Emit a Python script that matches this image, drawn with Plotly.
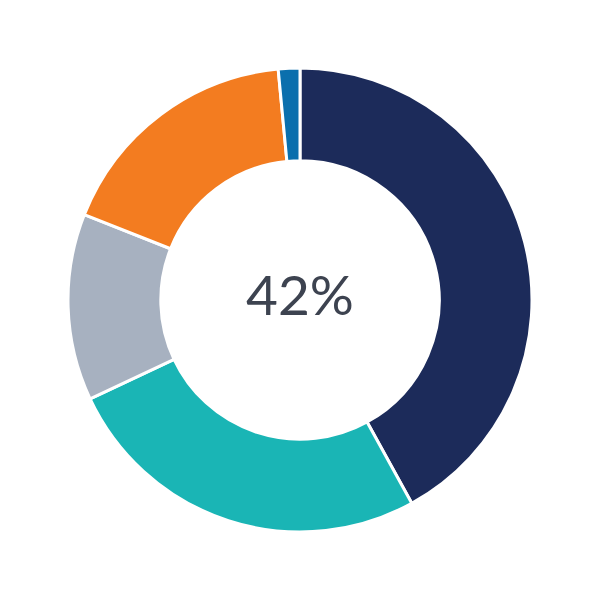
import plotly.graph_objects as go

# segmenti prstena, u smeru kazaljke od vrha
labels = ['A', 'B', 'C', 'D', 'E']
values = [42, 26, 13, 17.5, 1.5]
colors = ['#1c2b5a', '#1ab5b5', '#a7b1c0', '#f37c20', '#0a6fad']
center_text = '42%'

fig = go.Figure(go.Pie(
    labels=labels,
    values=values,
    hole=0.6,
    sort=False,
    direction='clockwise',
    rotation=0,
    textinfo='none',
    hoverinfo='label+percent',
    marker=dict(colors=colors, line=dict(color='white', width=3)),
))

fig.add_annotation(text=center_text, x=0.5, y=0.5, xref='paper', yref='paper',
                   showarrow=False, yshift=6,
                   font=dict(family='Lato, Open Sans, sans-serif', size=55, color='#3d4350'))

# stranica ima 8px margine u body, pa pomeramo domen
fig.update_layout(
    width=600, height=600,
    margin=dict(l=60, r=76, t=60, b=76),
    showlegend=False,
    paper_bgcolor='white',
    plot_bgcolor='white',
)

fig.write_html("out.html")
